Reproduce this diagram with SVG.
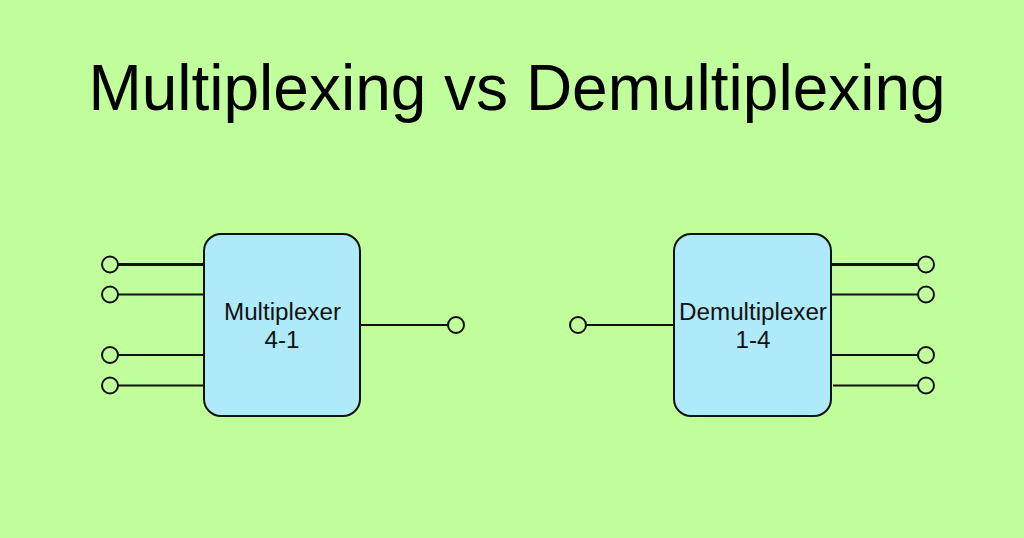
<svg xmlns="http://www.w3.org/2000/svg" width="1024" height="538" viewBox="0 0 1024 538">
<style>
.n{fill:#aeeaf9;stroke:#111;stroke-width:2}
.t{font-family:"Liberation Sans",Arial,sans-serif;fill:#000;text-anchor:middle}
.l{font-size:24.2px;fill:#111}
.w{stroke:#111;stroke-width:2;fill:none}
.b{stroke-width:3}
.c{fill:#c0ff9b;stroke:#111;stroke-width:2}
</style>
<rect width="1024" height="538" fill="#c0ff9b"/>
<text id="title" class="t" x="517" y="110" font-size="64">Multiplexing vs Demultiplexing</text>
<g id="connectors">
<path class="w b" d="M118 264.5H204M832 264.5H918"/>
<path class="w" d="M118 294.500H204M118 355H204M118 385.500H204M360 325H448M586 325H674M832 294.500H918M832 355H918M833 385.500H918"/>
</g>
<g id="mux"><rect class="n" x="204" y="234" width="156" height="182" rx="17"/><text class="t l" x="282.500" y="319.500">Multiplexer</text><text class="t l" x="282" y="347.500">4-1</text></g>
<g id="demux"><rect class="n" x="674" y="234" width="157" height="182" rx="17"/><text class="t l" x="753" y="319.500">Demultiplexer</text><text class="t l" x="753" y="347.500">1-4</text></g>
<g id="mux-in-1"><circle class="c" cx="110" cy="264.500" r="8"/></g>
<g id="mux-in-2"><circle class="c" cx="110" cy="294.500" r="8"/></g>
<g id="mux-in-3"><circle class="c" cx="110" cy="355" r="8"/></g>
<g id="mux-in-4"><circle class="c" cx="110" cy="385.500" r="8"/></g>
<g id="mux-out"><circle class="c" cx="456" cy="325" r="8"/></g>
<g id="demux-in"><circle class="c" cx="578" cy="325" r="8"/></g>
<g id="demux-out-1"><circle class="c" cx="926" cy="264.500" r="8"/></g>
<g id="demux-out-2"><circle class="c" cx="926" cy="294.500" r="8"/></g>
<g id="demux-out-3"><circle class="c" cx="926" cy="355" r="8"/></g>
<g id="demux-out-4"><circle class="c" cx="926" cy="385.500" r="8"/></g>
</svg>
